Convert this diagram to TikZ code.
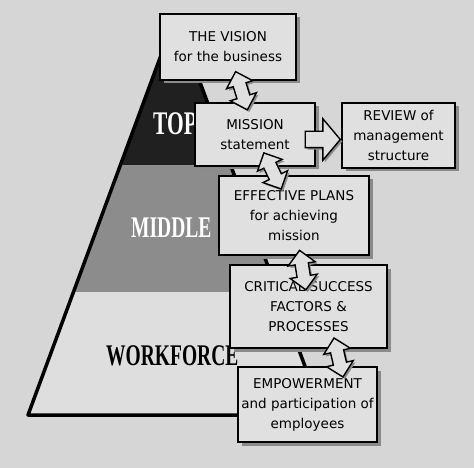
\documentclass[tikz,border=0pt]{standalone}
\usepackage{fontspec}
\setmainfont{DejaVu Sans}
\newfontfamily\bandfont{Liberation Serif}
\usepackage{tikz}
\usepackage{xcolor}
\usetikzlibrary{shapes.arrows,shadows}
\definecolor{paper}{RGB}{214,214,214}
\definecolor{boxgray}{RGB}{224,224,224}
\definecolor{topgray}{RGB}{32,32,32}
\definecolor{midgray}{RGB}{140,140,140}
\definecolor{lowgray}{RGB}{222,222,222}
\definecolor{shade}{RGB}{138,138,138}
\tikzstyle{box} = [rectangle, draw, line width=1.6pt, fill=boxgray, align=center, inner sep=0pt, font=\fontsize{13.5}{20}\selectfont, drop shadow={shadow xshift=3.5pt, shadow yshift=-3.5pt, fill=shade, opacity=1}]
\tikzstyle{dblarrow} = [double arrow, draw, line width=1.4pt, fill=boxgray, inner sep=0pt, inner ysep=6pt, minimum height=40pt, double arrow head extend=7pt, drop shadow={shadow xshift=2pt, shadow yshift=-2pt, fill=shade, opacity=1}]
\tikzstyle{sglarrow} = [single arrow, draw, line width=1.4pt, fill=boxgray, inner sep=0pt, inner ysep=7.5pt, minimum height=35pt, single arrow head extend=12.5pt, single arrow tip angle=100, drop shadow={shadow xshift=2pt, shadow yshift=-2pt, fill=shade, opacity=1}]
\tikzstyle{band} = [anchor=base west, inner sep=0pt, font=\bandfont\bfseries\fontsize{30}{30}\selectfont, xscale=0.65]

\begin{document}
\begin{tikzpicture}[x=1pt,y=1pt,semithick]
  \useasboundingbox (0,0) rectangle (474,-468);
  \fill[paper] (0,0) rectangle (474,-468);

  % pyramid
  \coordinate (apex) at (175.5,-16);
  \coordinate (left) at (28,-415);
  \coordinate (right) at (323,-415);
  \begin{scope}
    \clip (apex) -- (left) -- (right) -- cycle;
    \fill[topgray] (0,0) rectangle (474,-165);
    \fill[midgray] (0,-165) rectangle (474,-292);
    \fill[lowgray] (0,-292) rectangle (474,-468);
  \end{scope}
  \draw[line width=3.5pt, line join=round] (apex) -- (left) -- (right) -- cycle;

  \node[band, text=white, font=\bandfont\bfseries\fontsize{33}{33}\selectfont] (T) at (153,-135) {TOP};
  \node[band, text=white] (M) at (131,-237) {MIDDLE};
  \node[band] (W) at (106,-365) {WORKFORCE};

  % boxes
  \node[box, minimum width=136pt, minimum height=66pt] (vision) at (228,-47) {THE VISION\\for the business};
  \node[box, minimum width=120pt, minimum height=63pt] (mission) at (255,-134.5) {MISSION\\statement};
  \node[box, minimum width=113pt, minimum height=65pt] (review) at (398.5,-135.5) {REVIEW of\\management\\structure};
  \node[box, minimum width=150pt, minimum height=79pt] (plans) at (294,-215.5) {EFFECTIVE PLANS\\for achieving\\mission};
  \node[box, minimum width=157pt, minimum height=83pt] (factors) at (308.5,-306.5) {CRITICAL SUCCESS\\FACTORS \&\\PROCESSES};
  \node[box, minimum width=139pt, minimum height=75pt] (empower) at (307.5,-404.5) {EMPOWERMENT\\and participation of\\employees};

  % arrows
  \path (vision.center) -- (mission.center) node[dblarrow, sloped, pos=0.5] {};
  \path (mission.center) -- (plans.center) node[dblarrow, sloped, pos=0.45] {};
  \path (plans.center) -- (factors.center) node[dblarrow, sloped, pos=0.6] {};
  \path ([xshift=28pt]factors.south) -- ([xshift=33pt]empower.north) node[dblarrow, sloped, midway] {};
  \path (mission.east) -- ([yshift=-4pt]review.west) node[sglarrow, pos=1, anchor=tip] {};
\end{tikzpicture}
\end{document}
